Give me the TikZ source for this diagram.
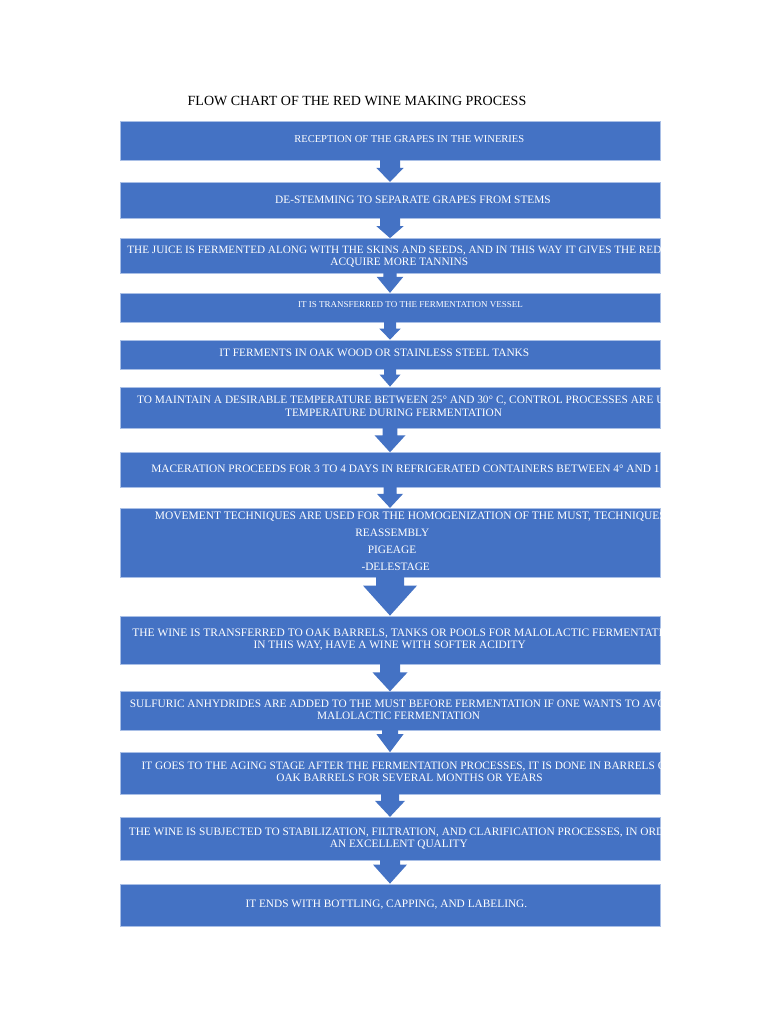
\documentclass[tikz,border=0pt]{standalone}
\usepackage{fontspec}
\setmainfont{Liberation Serif}
\usetikzlibrary{calc}
\definecolor{boxblue}{HTML}{4472C4}
\definecolor{edgeblue}{HTML}{A9BFE6}
% #1 from node, #2 to node, #3 shaft half width, #4 head half width, #5 head length (px)
\newcommand\flowarrow[5]{%
  \fill[arrowfill] ($(#1.south)+(-#3,-1)$) -- ($(#2.north)+(-#3,-#5)$) -- ($(#2.north)+(-#4,-#5)$)
    -- (#2.north) -- ($(#2.north)+(#4,-#5)$) -- ($(#2.north)+(#3,-#5)$) -- ($(#1.south)+(#3,-1)$) -- cycle;}
\begin{document}
\begin{tikzpicture}[x=0.75pt,y=-0.75pt,
  box/.style={draw=edgeblue, line width=0.6pt, fill=boxblue, minimum width=405pt, inner sep=0pt},
  arrowfill/.style={fill=boxblue},
  txt/.style={text=white, inner sep=0pt, font=\fontsize{8.5}{10}\selectfont},
  txtlong/.style={txt, font=\fontsize{8.6}{10}\selectfont},
  txtshort/.style={txt, font=\fontsize{8.4}{10}\selectfont},
  txtsmall/.style={txt, font=\fontsize{6.75}{8}\selectfont},
  txtone/.style={txt, font=\fontsize{7.9}{9}\selectfont},
  titletxt/.style={text=black, inner sep=0pt, font=\fontsize{10.5}{12}\selectfont}]
\fill[white] (0,0) rectangle (768,1024);
\useasboundingbox (0,0) rectangle (768,1024);

\node[titletxt, anchor=base] (title) at (357,105.6) {FLOW CHART OF THE RED WINE MAKING PROCESS};

\node[box, minimum height=29.25pt] (b1) at (390,140.5) {};
\node[box, minimum height=27pt]    (b2) at (390,200.3) {};
\node[box, minimum height=25.9pt]  (b3) at (390,255.75) {};
\node[box, minimum height=21.5pt]  (b4) at (390,307.6) {};
\node[box, minimum height=21.75pt] (b5) at (390,354.5) {};
\node[box, minimum height=30.75pt] (b6) at (390,407.5) {};
\node[box, minimum height=26pt]    (b7) at (390,470) {};
\node[box, minimum height=51.75pt] (b8) at (390,542.8) {};
\node[box, minimum height=36pt]    (b9) at (390,640) {};
\node[box, minimum height=28.7pt]  (b10) at (390,710.9) {};
\node[box, minimum height=31pt]    (b11) at (390,773.3) {};
\node[box, minimum height=32pt]    (b12) at (390,838.6) {};
\node[box, minimum height=31.5pt]  (b13) at (390,905) {};

\flowarrow{b1}{b2}{10}{13.7}{14}
\flowarrow{b2}{b3}{10}{13.7}{12}
\flowarrow{b3}{b4}{6.7}{13.3}{16}
\flowarrow{b4}{b5}{6}{10.7}{11}
\flowarrow{b5}{b6}{6}{10.5}{12}
\flowarrow{b6}{b7}{7.3}{15.5}{17}
\flowarrow{b7}{b8}{6.5}{13}{14}
\flowarrow{b8}{b9}{14}{27}{30}
\flowarrow{b9}{b10}{10}{17.5}{19}
\flowarrow{b10}{b11}{8}{13.5}{18}
\flowarrow{b11}{b12}{9}{15}{16}
\flowarrow{b12}{b13}{10}{17}{19}

\begin{scope}
\clip (0,0) rectangle (660,1024);
\node[txtone, anchor=base] (t1) at (409.3,142.5) {RECEPTION OF THE GRAPES IN THE WINERIES};
\node[txt, anchor=base] (t2) at (413,203) {DE-STEMMING TO SEPARATE GRAPES FROM STEMS};
\node[txtshort, anchor=base west] (t3a) at (127.1,253) {THE JUICE IS FERMENTED ALONG WITH THE SKINS AND SEEDS, AND IN THIS WAY IT GIVES THE RED};
\node[txt, anchor=base] (t3b) at (399.3,265.4) {ACQUIRE MORE TANNINS};
\node[txtsmall, anchor=base] (t4) at (410.5,307.3) {IT IS TRANSFERRED TO THE FERMENTATION VESSEL};
\node[txt, anchor=base] (t5) at (374.3,356.4) {IT FERMENTS IN OAK WOOD OR STAINLESS STEEL TANKS};
\node[txt, anchor=base west] (t6a) at (136.8,403.7) {TO MAINTAIN A DESIRABLE TEMPERATURE BETWEEN 25° AND 30° C, CONTROL PROCESSES ARE U};
\node[txt, anchor=base] (t6b) at (393.6,416.4) {TEMPERATURE DURING FERMENTATION};
\node[txt, anchor=base west] (t7) at (151,472.4) {MACERATION PROCEEDS FOR 3 TO 4 DAYS IN REFRIGERATED CONTAINERS BETWEEN 4° AND 1};
\node[txtlong, anchor=base west] (t8a) at (154.6,519.7) {MOVEMENT TECHNIQUES ARE USED FOR THE HOMOGENIZATION OF THE MUST, TECHNIQUES};
\node[txt, anchor=base] (t8b) at (392.3,536.4) {REASSEMBLY};
\node[txt, anchor=base] (t8c) at (392,553) {PIGEAGE};
\node[txt, anchor=base] (t8d) at (395.7,570.4) {-DELESTAGE};
\node[txtlong, anchor=base west] (t9a) at (132.1,636.4) {THE WINE IS TRANSFERRED TO OAK BARRELS, TANKS OR POOLS FOR MALOLACTIC FERMENTATI};
\node[txt, anchor=base] (t9b) at (389.7,648) {IN THIS WAY, HAVE A WINE WITH SOFTER ACIDITY};
\node[txt, anchor=base west] (t10a) at (129.6,707.7) {SULFURIC ANHYDRIDES ARE ADDED TO THE MUST BEFORE FERMENTATION IF ONE WANTS TO AVO};
\node[txt, anchor=base] (t10b) at (398.6,719.4) {MALOLACTIC FERMENTATION};
\node[txt, anchor=base west] (t11a) at (141.4,769.7) {IT GOES TO THE AGING STAGE AFTER THE FERMENTATION PROCESSES, IT IS DONE IN BARRELS O};
\node[txt, anchor=base] (t11b) at (409.5,781.4) {OAK BARRELS FOR SEVERAL MONTHS OR YEARS};
\node[txt, anchor=base west] (t12a) at (128.6,835.4) {THE WINE IS SUBJECTED TO STABILIZATION, FILTRATION, AND CLARIFICATION PROCESSES, IN ORD};
\node[txt, anchor=base] (t12b) at (398.8,847) {AN EXCELLENT QUALITY};
\node[txt, anchor=base] (t13) at (386.4,907) {IT ENDS WITH BOTTLING, CAPPING, AND LABELING.};
\end{scope}
\end{tikzpicture}
\end{document}
